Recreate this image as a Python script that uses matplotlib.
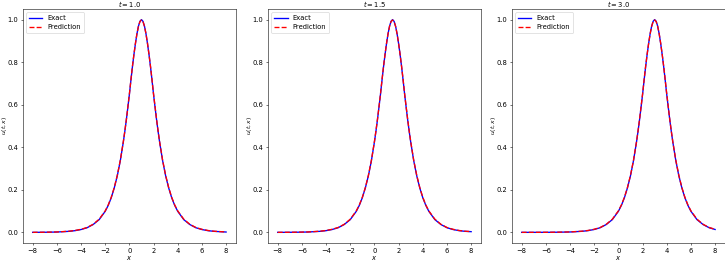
import numpy as np
import matplotlib.pyplot as plt

# times shown and where the peak sits at each time
times = [1.0, 1.5, 3.0]
peak_x = [1.0, 1.5, 3.0]

# profile: distance from the peak -> u
offset = [0.0, 0.125, 0.25, 0.375, 0.5, 0.625, 0.75, 0.875, 1.0, 1.125, 1.25,
          1.375, 1.5, 1.75, 2.0, 2.25, 2.5, 2.75, 3.0, 3.5, 4.0, 4.5, 5.0,
          5.5, 6.0, 7.0, 8.0, 9.0, 10.0, 11.0]
u_exact = [1.0, 0.992, 0.969, 0.933, 0.887, 0.835, 0.777, 0.714, 0.648, 0.588,
           0.529, 0.475, 0.425, 0.337, 0.266, 0.209, 0.163, 0.127, 0.099,
           0.060, 0.037, 0.022, 0.0135, 0.0082, 0.0050, 0.0018, 0.0007,
           0.00025, 0.0001, 0.00003]
# prediction: practically on top of the exact curve
u_pred = [0.998, 0.991, 0.968, 0.933, 0.888, 0.836, 0.779, 0.716, 0.650, 0.590,
          0.531, 0.477, 0.427, 0.339, 0.268, 0.211, 0.165, 0.129, 0.101,
          0.062, 0.038, 0.023, 0.0145, 0.009, 0.0055, 0.002, 0.0008,
          0.0003, 0.0001, 0.00003]

fig = plt.figure(figsize=(15, 5.4), dpi=725 / 15)
lefts = [0.0317, 0.3697, 0.7062]

for i, t in enumerate(times):
    ax = fig.add_axes([lefts[i], 0.069, 0.2935, 0.8966])
    off = np.array(offset)
    xs = np.concatenate([peak_x[i] - off[::-1], peak_x[i] + off[1:]])
    ue = np.concatenate([np.array(u_exact)[::-1], np.array(u_exact)[1:]])
    up = np.concatenate([np.array(u_pred)[::-1], np.array(u_pred)[1:]])
    keep = (xs >= -8) & (xs <= 8)
    # add the domain end points
    xe = np.concatenate([[-8], xs[keep], [8]])
    ue = np.interp(xe, xs, ue)
    up = np.interp(xe, xs, up)

    ax.plot(xe, ue, "b-", linewidth=2, label="Exact")
    ax.plot(xe, up, "r--", linewidth=2, label="Prediction")
    ax.set_title(f"$t = {t:.1f}$", fontsize=10, pad=2)
    ax.set_xlabel("$x$", labelpad=1)
    ax.set_ylabel("$u(t,x)$", fontsize=9)
    ax.yaxis.set_label_coords(-0.068, 0.5)
    ax.set_xticks([-8, -6, -4, -2, 0, 2, 4, 6, 8])
    ax.legend(loc="upper left")

plt.savefig("out.png", dpi=725 / 15)
